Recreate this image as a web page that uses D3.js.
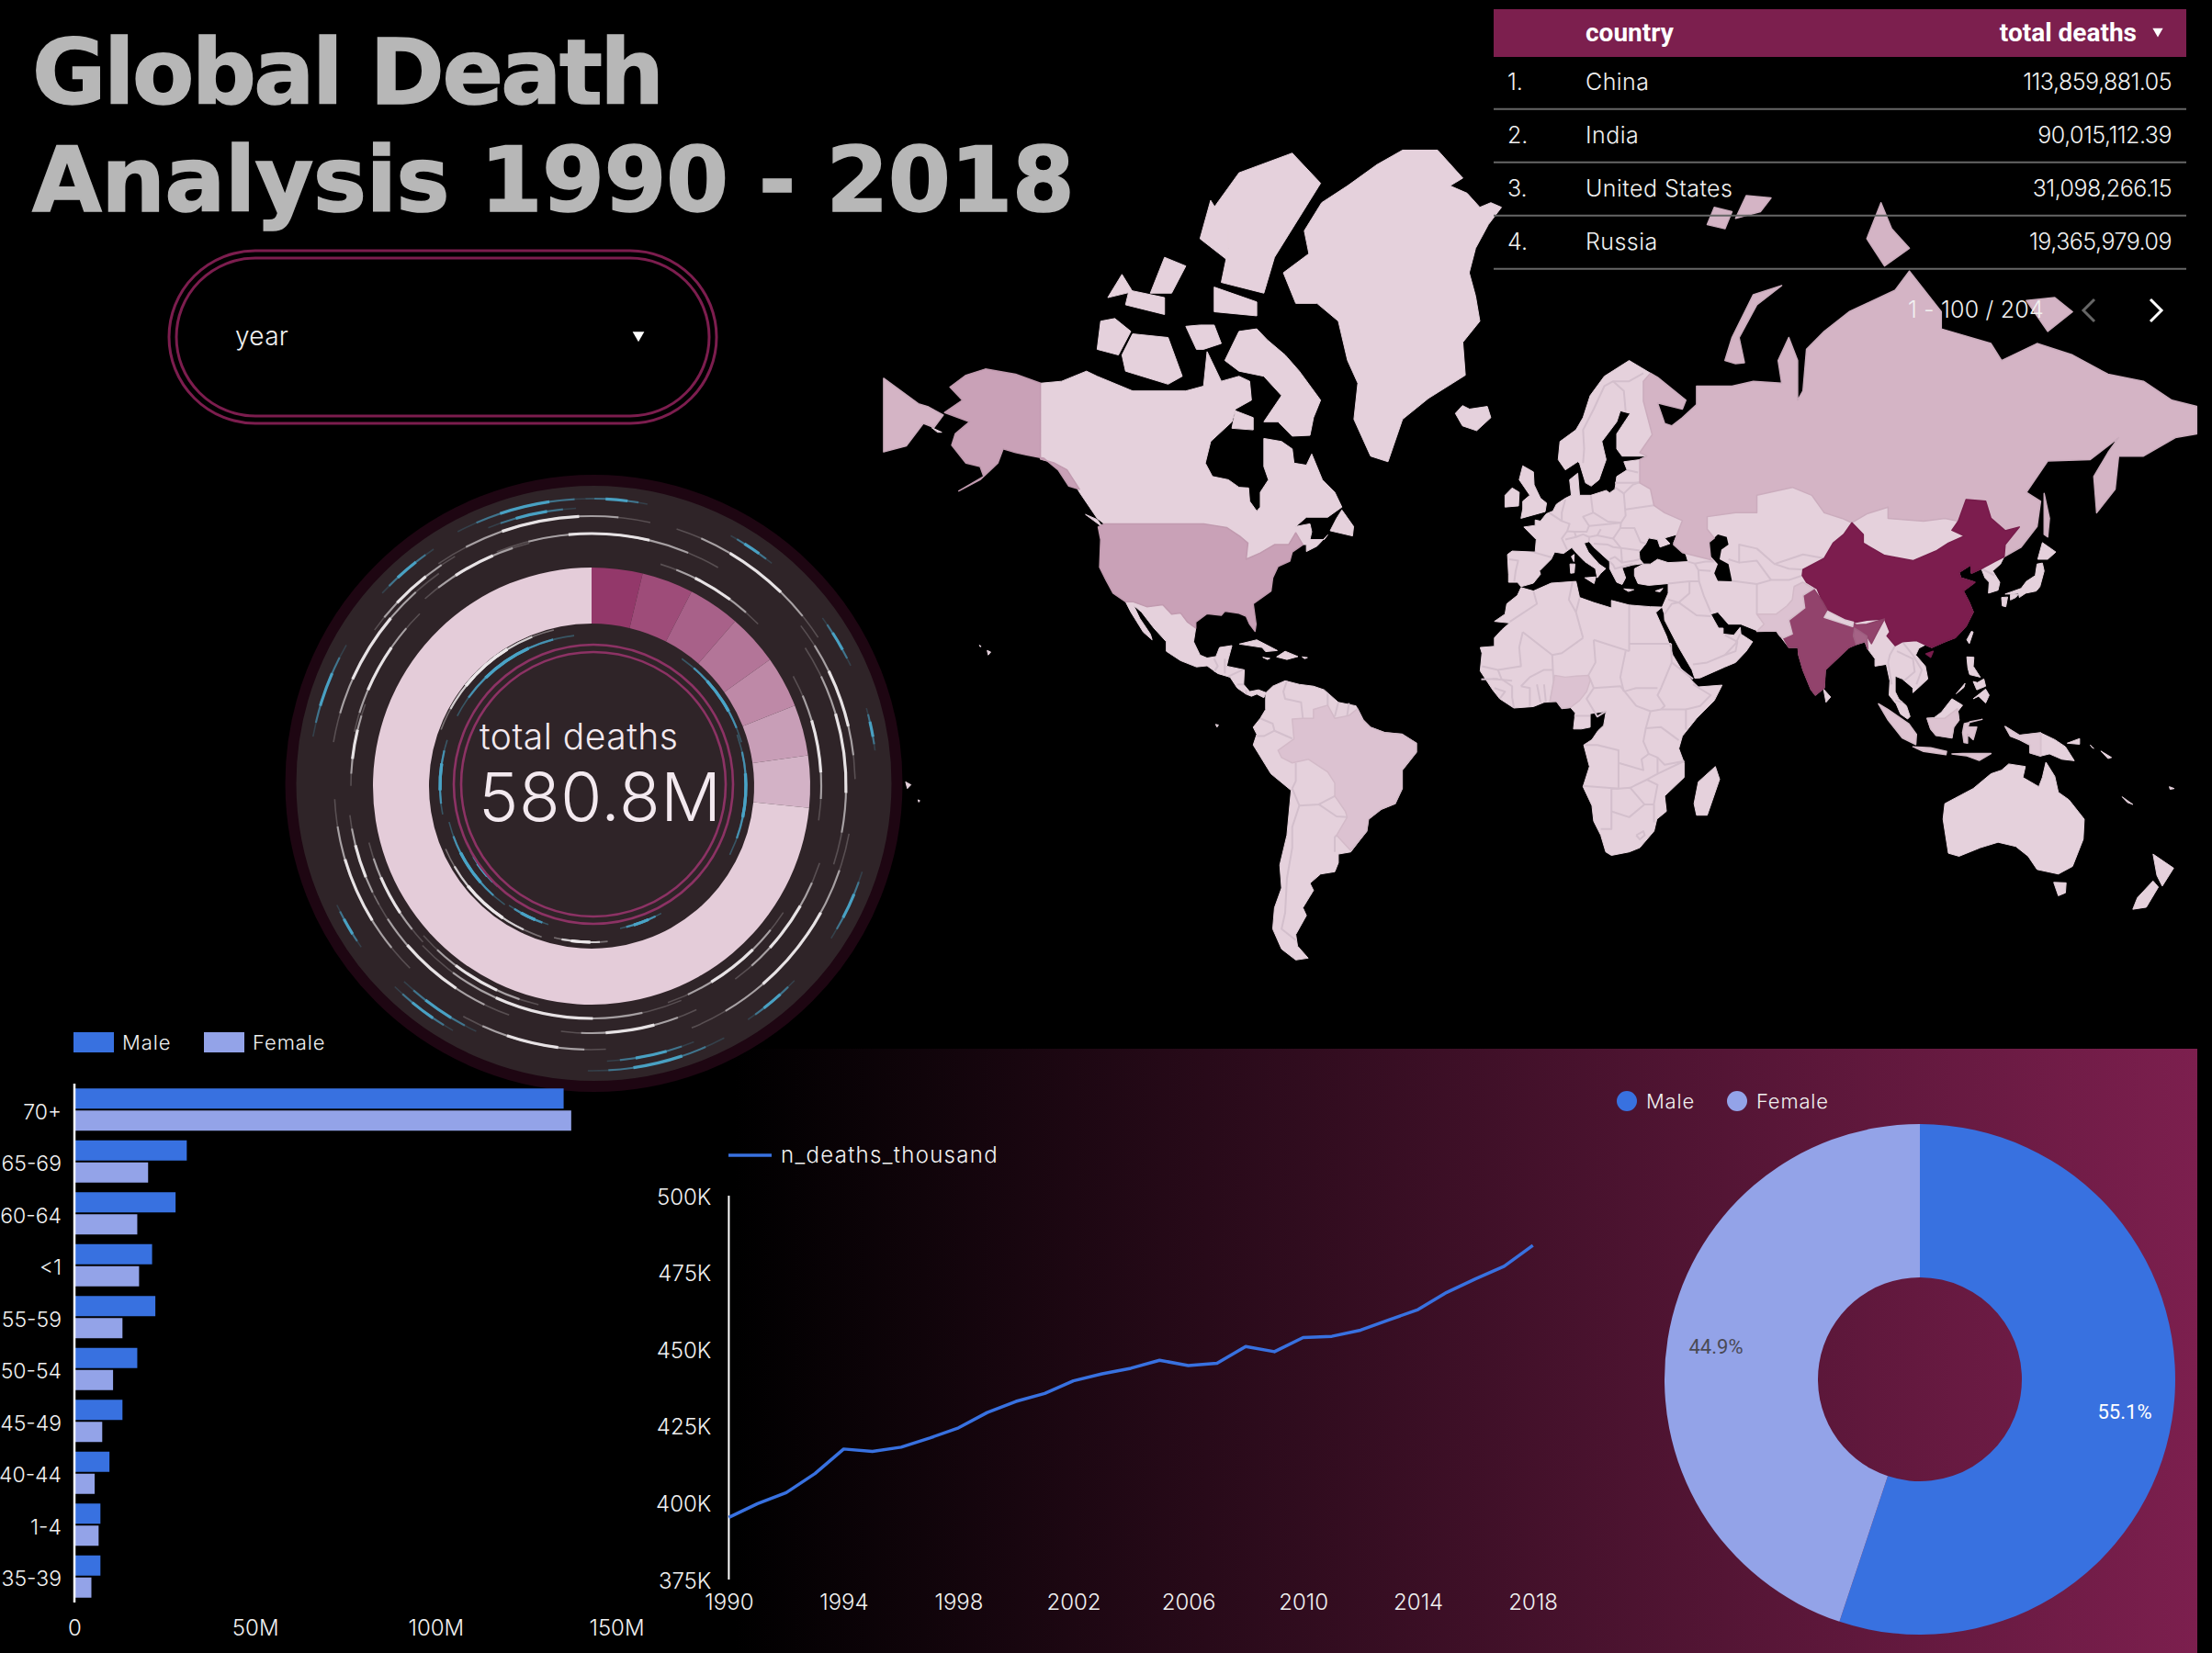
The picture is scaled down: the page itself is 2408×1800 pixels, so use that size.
<!DOCTYPE html>
<html><head><meta charset="utf-8">
<script src="https://d3js.org/d3.v7.min.js"></script>
<style>
html,body{margin:0;padding:0;background:#000;}
svg{display:block;}
text{font-family:Inter,"Open Sans",sans-serif;font-weight:300;fill:#f1f1f1;}
</style></head><body>
<svg id="c" width="2408" height="1800"></svg>
<script>
// ---------- chart data ----------
const ageGroups=["70+","65-69","60-64","<1","55-59","50-54","45-49","40-44","1-4","35-39"];
const maleDeaths=[135.4,31.1,28.0,21.5,22.4,17.4,13.3,9.7,7.2,7.2];
const femaleDeaths=[137.5,20.4,17.4,17.9,13.3,10.7,7.7,5.6,6.7,4.7];
const barTicks=[0,50,100,150];
const years=d3.range(1990,2019);
const deathsThousand=[395.2,399.7,403.3,409.5,417.5,416.7,418.1,421.1,424.4,429.4,433.0,435.6,439.7,442.0,443.8,446.4,444.7,445.4,450.9,449.2,453.8,454.2,456.2,459.6,462.9,468.5,472.9,477.0,483.8];
const lineYTicks=[375,400,425,450,475,500];
const lineXTicks=[1990,1994,1998,2002,2006,2010,2014,2018];
const genderNames=["Male","Female"];
const genderShare=[55.1,44.9];
const ringValues=[21.8,22.1,22.3,22.0,22.1,21.8,22.3,426.4];
const tableCountries=["China","India","United States","Russia"];
const tableDeaths=[113859881.05,90015112.39,31098266.15,19365979.09];
// decorative streaks of the dial: [radius, start angle, end angle]
const whiteStreaks=[[294,-30,8],[275,-17,25],[273,-39,-17],[295,22,53],[253,20,43],[291,-52,-33],[285,-76,-40],[265,-74,-48],[262,-88,-72],[287,56,85],[250,65,95],[277,62,103],[285,106,152],[262,112,140],[250,127,157],[269,158,184],[287,180,206],[253,164,220],[280,229,263],[265,243,261],[250,230,253],[265,204,239],[245,197,225],[173,203,242],[170,176,192],[175,-64,-19]];
const blueStreaks=[[312,30,38],[313,-25,-2],[313,0,10],[303,-20,-5],[310,-46,-35],[308,-78,-62],[311,55,64],[311,75,82],[309,109,121],[306,135,145],[310,155,178],[300,160,175],[306,211,223],[295,207,222],[306,236,244],[170,39,70],[168,75,112],[158,153,167],[158,199,213],[160,220,252],[150,225,240],[165,262,285],[165,-57,-12]];

// ---------- map data: outlines in lon/lat ----------
const landRings=[
// Canada + Central America block
[[-141,68.8],[-135,69],[-128,70],[-125,69.5],[-115,68],[-108,68],[-100,68],[-95,68.5],[-94,71.8],[-90,69],[-85,69.5],[-82,69],[-81.5,67],[-86,66],[-87,64.5],[-93,62],[-94.5,59],[-92.5,57],[-88,56.5],[-85,55.3],[-82.3,55.2],[-82,53],[-80,51.3],[-79,52],[-79,54.5],[-76.7,56.5],[-78,58.5],[-78,62.4],[-73,62],[-70,61],[-69.5,59],[-66,58.7],[-64.5,60.3],[-61.5,56.5],[-58,54.5],[-56,52],[-60,50.2],[-66,50.2],[-69,48.5],[-65,49],[-64.5,47.5],[-65,46],[-61,46],[-60,46.9],[-63,44.7],[-66,43.6],[-66,45],[-67,45],[-69,47.3],[-71,45],[-75,45],[-79,43.3],[-83,42],[-82.5,45.3],[-84.5,46.5],[-88.5,48.3],[-95,49],[-123,49],[-125,50],[-130,54.5],[-133.5,58],[-137,59],[-141,59.6]],
[[-117,32.5],[-114.8,32.5],[-111,31.3],[-106.5,31.8],[-104,29.5],[-101.5,29.8],[-99.5,27.5],[-97.2,26],[-97.8,22.5],[-96,19],[-94,18.2],[-91.5,18.6],[-90.5,21],[-87,21.5],[-88,18],[-88.5,16],[-83.5,15],[-83.7,11],[-82,9],[-79.5,9.5],[-77.4,8.7],[-78,7.3],[-80,8.3],[-81.5,7.7],[-83,8.3],[-85.5,10],[-87.5,13],[-91,14],[-94,16.1],[-97,15.8],[-101.5,17.5],[-105.5,20],[-105.5,22.5],[-109,26],[-112.5,30],[-114.7,31.6],[-113,28.5],[-110,24.5],[-109.5,23],[-112,25],[-115.5,30]],
// Arctic islands
[[-80,73.7],[-77,72.8],[-72,71.5],[-68,70],[-62,67],[-64,65],[-65,62.8],[-70,62.7],[-74,64.5],[-78,64.5],[-73,67.5],[-78,69.5],[-85,70],[-89,71],[-85,73.5]],
[[-117,70],[-105,68.7],[-101,69.5],[-105,73],[-115,73.3],[-118,71.5]],
[[-125,72],[-119,71.5],[-115.5,73.5],[-120,74.5],[-124,74.3]],
[[-117,75.5],[-106,74.8],[-106,76],[-116,76.5]],
[[-100,73.9],[-97,72],[-95,72],[-90,72.5],[-92,74],[-96,74]],
[[-92,75],[-80,74.7],[-80,75.7],[-92,76.7]],
[[-90,77],[-78,76.3],[-75,78.5],[-62,82],[-70,83.1],[-85,82.4],[-92,81],[-88,79]],
[[-96,79.5],[-88,78.3],[-88,80],[-93,81.3]],
[[-110,76.3],[-104,76.3],[-100,78],[-106,78.5]],
[[-122,76],[-115,76.4],[-118,77.5]],
[[-87,63.7],[-81,63.5],[-81,65],[-86,65.8]],
[[-59.3,47.7],[-53,46.7],[-52.7,48.5],[-56,51.5],[-57.5,50]],
[[-128.3,50.7],[-123.5,48.4],[-125,49.8]],
// Greenland and Iceland
[[-38.9,83.2],[-29,83.2],[-21.9,82.2],[-25.5,81.9],[-20.7,81.6],[-17.1,81],[-14,81.2],[-11,81],[-14.7,80.2],[-18.3,79],[-20.1,77.6],[-18.3,76.1],[-17.1,74.3],[-21.9,72.6],[-21.2,69.6],[-31.6,67.2],[-38.9,64.8],[-43,59.2],[-47.9,60],[-52.6,64.8],[-51.5,68.8],[-54.4,71],[-57,74.3],[-63,75.6],[-69,75.6],[-72.5,77.6],[-65.3,78.7],[-66.6,79.9],[-61.7,81.2],[-54.4,81.9],[-46.1,82.7]],
[[-24,65.5],[-22,64],[-18,63.4],[-14,65],[-15,66.3],[-20,66],[-22,66.4]],
// Caribbean, small Pacific
[[-84.9,21.9],[-80,23],[-74.2,20.2],[-77.5,19.9],[-78.5,21]],
[[-74.4,18.5],[-72,20],[-68.4,18.6],[-71.5,17.8]],
[[-78.3,18.4],[-76.3,18.1],[-77,17.8]],[[-67.2,18.5],[-65.7,18.3],[-66.5,18]],
[[-156,20.2],[-155,19.8],[-155.7,19]],[[-158.2,21.6],[-157.7,21.3],[-158,21.2]],[[-91.6,-0.2],[-90.8,-0.4],[-91.2,-1]],
[[-179,-16.2],[-177.5,-17],[-178.5,-18]],[[-175.5,-21],[-175,-21.2],[-175.3,-21.6]],
// St Lawrence etc
[[-171.7,63.8],[-168.8,63.2],[-170,63.2]],
// South America
[[-77.4,8.7],[-75.5,10.5],[-72,12],[-68,11],[-64,10.5],[-61,9.5],[-57,6],[-52,5],[-50,1],[-48,-1],[-44,-2.5],[-39,-3],[-35,-5.5],[-35,-8],[-39,-13],[-39,-18],[-41,-22],[-45,-23.5],[-48.5,-26],[-49,-29],[-53.5,-34],[-57,-34.5],[-57,-36.5],[-58,-38.5],[-62,-39],[-65,-41],[-64,-42.5],[-67,-46],[-66,-47.5],[-69,-51],[-68.5,-53],[-65.5,-55],[-69,-55.3],[-73,-53.5],[-75.5,-50],[-75,-46],[-73,-42],[-73.5,-37],[-71.5,-30],[-70.3,-18.5],[-76,-14],[-81,-6],[-80,-3],[-81,-1],[-79,1.5],[-77.5,4],[-77.5,7]],
// Africa
[[-5.5,35.8],[-2,35],[3,36.8],[10,37.2],[11,33.5],[15,32.3],[20,31],[20,32.8],[25,31.7],[31,31.3],[34.3,31.2],[32.5,29.9],[35.5,24],[37.3,19],[39.5,15.5],[43.2,11.5],[44.5,10.3],[51.2,10.8],[49,6.5],[44,1.5],[40,-3.5],[39,-7],[40.5,-11],[40.5,-15],[35,-20],[35.5,-24],[32.8,-26],[32,-29],[28,-33],[25,-34],[20,-34.8],[18.4,-34],[17,-30],[15,-26.5],[14.5,-22.5],[12,-17.5],[13.8,-12],[12.2,-6],[14.5,-4.5],[16.2,-2],[17.8,-0.5],[18.5,3.5],[14,2.8],[14,-1],[11.5,-1.5],[9.3,-1.5],[9.8,3],[8.5,4.5],[6,4.3],[4.5,6.3],[1,6],[-2,4.8],[-7.5,4.4],[-11.5,7],[-13.5,9.5],[-17,14.7],[-16.5,19.5],[-17,21],[-13,21.3],[-13,23.5],[-11,25.5],[-8.7,27.3],[-13,27.7],[-10,29.5],[-9.5,32],[-6.5,34]],
[[44,-25],[47,-25],[50.5,-15.5],[49.3,-12],[44.5,-16.2],[43.3,-22]],
// Eurasia mainland
[[25,71],[18,69.5],[14,67.5],[12,65],[10,63.5],[5.5,62],[5,59.5],[7,58],[10.5,59.2],[11,59],[12.7,56],[14.3,55.5],[16.5,56.5],[18.5,59.5],[17.3,62],[21.5,64.5],[22.5,65.8],[25.3,65.5],[21.5,63],[21.5,61],[23,60],[30,60],[28,59.5],[23.5,59.2],[24.4,58],[21.5,57],[21,55],[19.5,54.4],[18.5,54.8],[14.2,54],[11,54],[10.5,57.5],[8.2,56.5],[8.7,54],[7,53.5],[4.5,52.5],[3.5,51.3],[1.6,50.8],[0,49.5],[-1.5,49.7],[-1.5,48.7],[-4.7,48.4],[-1.2,46],[-1.5,43.5],[-8,43.7],[-9.3,43],[-9,38.7],[-9,37],[-6.5,37],[-5.5,36],[-2,36.8],[0,38.8],[-0.3,39.5],[3,42],[4,43.5],[6.5,43.2],[8.8,44.4],[10.5,43],[12.5,41.5],[15.5,40],[16,38],[17,39],[18.4,40],[16.5,41],[13.5,43.5],[12.3,45.3],[13.7,45.6],[15,44.5],[19.5,41.5],[19.5,40],[21.5,37],[23,36.5],[24,38],[23,40.2],[26,40.8],[29,41.1],[28,42],[27.8,43.5],[29.7,45.2],[30.5,46.3],[33,46],[33.7,44.5],[36.5,45.2],[35,46.3],[38.5,47],[37.5,45.3],[41,43],[41.6,41.5],[36,41.3],[33,42],[31,41],[29,41],[26.5,40],[26.5,38.5],[27.5,36.7],[30.5,36.3],[36,36.7],[36,34.5],[34.3,31.2],[34.9,29.5],[35,28],[39,21],[42.7,15],[43.5,12.7],[45,12.8],[52,15.8],[55,17],[58,20],[59.8,22.5],[56.5,24.5],[56.3,26.2],[54.5,24.2],[51.5,24.5],[51.5,26],[50.2,26],[48,29.5],[50,30],[53,27],[56.5,27],[61.5,25.2],[66.5,25.3],[67.5,24],[70,21],[72.6,21],[72.8,19],[74,15],[76.3,9.5],[77.5,8],[80,10],[80.3,15],[82.5,17],[87,21],[89,21.8],[91.5,22.5],[92.3,20.5],[94.3,18],[94.3,16],[97.5,16.5],[98.5,12],[98.3,8],[100.3,5.5],[101.5,2.7],[103.5,1.3],[104.2,2],[103.2,5],[101,7],[100,9],[100,13.3],[102,12.5],[105,10],[105,8.7],[106.8,10.3],[109.2,12.5],[108.5,16],[105.8,19],[106.7,20.8],[108.5,21.7],[110.3,21],[114,22.5],[117,23.6],[120,26.5],[122,30],[120.8,32.5],[119.2,35],[122.5,37],[118.5,38],[118,39.2],[121.3,40.8],[121.5,39],[124.3,40],[125.3,38],[126.5,37],[126.3,34.5],[129,35.2],[129.5,37],[127.5,39.5],[129.7,41],[130.7,42.5],[125,52],[100,55],[60,58],[35,62],[31,69.8]],
// Eurasian islands
[[-5.5,50],[1.3,51.2],[1.7,52.7],[0,53.5],[-1.8,55.7],[-2,57.7],[-5,58.6],[-6,56.5],[-3,54],[-5,53],[-5,51.7]],
[[-10,52],[-6.2,52.2],[-6,54.5],[-8,55.2],[-10,54]],
[[12.5,38],[15.6,38.2],[15.1,36.7]],[[8.3,41],[9.7,41],[9.5,39.1],[8.5,39]],[[8.7,42.6],[9.5,43],[9.4,41.5]],[[23.5,35.5],[26.3,35.3],[24.8,34.9]],[[32.4,35],[34.5,35.6],[33.7,34.8]],
[[79.8,9.7],[81.8,7.5],[80.5,6]],
[[130,33.5],[131.7,33.6],[131.2,31.3],[130.2,31.5]],
[[132.5,34.2],[134.7,34.2],[134,33.5],[132.5,32.9]],
[[131,34.3],[135.5,35.6],[137,37.2],[139.5,38.5],[140,41],[141.5,41.2],[142,39.5],[140.8,36],[139.8,35],[136.8,34.5],[135,33.5],[134.8,34.5],[132.5,34.3]],
[[140.2,42],[141.5,45.4],[145.3,43.5],[143,42]],
[[120.2,23],[121.5,25.2],[122,25],[120.9,22]],
[[120.2,18.5],[122.2,18.4],[122,16],[124,13],[121,13.7],[120.5,15.5]],
[[122,7],[125.5,9.7],[126.5,8],[125.5,5.8],[123.5,7.7]],
[[122,11.8],[123.2,11.5],[125,12.5],[125.5,10.5],[123,9.5]],
[[117.2,8.4],[119.7,11.3],[119.4,10.2]],
[[109,1.5],[111,1.7],[113,3.2],[116,7],[119,5.2],[117.7,3.5],[118,1],[116.5,-1],[116,-4],[111.5,-3.3],[110,-1.5]],
[[131,-0.8],[135,-3.3],[141,-2.6],[145,-4.5],[148,-6.5],[150.5,-10.4],[147,-10],[143.5,-8.5],[141,-9.1],[138,-8.2],[138,-6],[135,-4.5],[132.5,-3.5]],
[[148.5,-5.5],[152,-4.2],[152,-5.8]],[[155,-6],[156,-7],[155.5,-6.7]],[[158,-7.7],[161,-9.5],[160,-9.8]],
[[114,-22],[113.5,-26],[115,-34.3],[118,-35],[124,-33],[129,-31.7],[134,-32.7],[137.5,-35],[140,-38],[146,-39],[150,-37.3],[153,-31],[153.3,-26],[149,-21],[146,-19],[145,-14.7],[142.5,-10.8],[141.5,-15],[140.5,-17.5],[136,-15],[136.7,-12],[132,-11.3],[130,-13],[127,-14],[122,-18],[117,-20.5]],
[[144.7,-40.8],[148.2,-40.9],[148,-43],[146,-43.6]],
[[172.7,-34.5],[178.5,-37.7],[175.3,-41.6],[173.8,-39.3]],
[[172.7,-40.5],[174.2,-41.8],[170.8,-45.9],[167,-46.3],[168.3,-44]],
[[164,-20.2],[167,-22.2],[165.5,-21.7]],[[177.3,-17.5],[178.7,-18],[177.5,-18.2]]
];
const blackRings=[[[47,45],[50,47],[52.5,46.5],[53,45],[51,44],[50.5,42],[53,41],[54,37.2],[50,37.3],[49,39],[50,41],[47.5,43]]];
const countryNames=["United States","Alaska","Chukotka west","Russia","Sakhalin","Novaya Zemlya","Franz Josef Land A","Franz Josef Land B","Severnaya Zemlya","New Siberian Is.","China","Hainan","India","Pakistan","Bangladesh","Brazil","Nigeria","Sumatra","Java","Kalimantan","Sulawesi","Papua","Timor","Nepal"];
const countryValues=[31.1,31.1,19.4,19.4,19.4,19.4,19.4,19.4,19.4,19.4,113.9,113.9,90.0,10.5,70,10.5,10.5,10,10,10,10,6,10,2];
const countryRings=[
[[-123,49],[-95,49],[-88.5,48.3],[-84.5,46.5],[-82.5,45.3],[-83,42],[-79,43.3],[-75,45],[-71,45],[-69,47.3],[-67,45],[-70,43.5],[-70.7,41.6],[-74,40.5],[-75.5,38],[-76,35],[-81,32],[-80.2,27],[-80.5,25.2],[-82,27],[-83,29],[-85,29.7],[-89,30.2],[-90,29.2],[-94,29.6],[-97.2,27.5],[-97.2,26],[-99.5,27.5],[-101.5,29.8],[-104,29.5],[-106.5,31.8],[-111,31.3],[-114.8,32.5],[-117,32.5],[-120.5,34.5],[-122.5,37.5],[-124.3,40.3],[-124,46],[-124.7,48.4]],
[[-141,68.8],[-148,69.7],[-156.5,70.2],[-162,69.6],[-166.5,68.4],[-163,67],[-168,65.6],[-161,64.5],[-165,63],[-166,61.5],[-162,59],[-158,58.5],[-157,57],[-164,54.7],[-158,56.5],[-153,59],[-151.5,61],[-148,60.5],[-145,60.2],[-140,59.7],[-136,58],[-133,55.5],[-130,55],[-133.5,58],[-137,59],[-141,59.6]],
[[-185.2,69.3],[-175.4,66.6],[-172.8,66.3],[-168.4,65.3],[-171,63.8],[-174,64.3],[-178.8,61.4],[-185.2,60.6]],
[[31,69.8],[33,69.4],[41,67],[40,66],[35,66.5],[33,66.7],[35,64.3],[37,64],[40,65],[44,66.5],[44,68.5],[54,68.5],[60,69],[68,68.8],[67,71],[70,73],[72.5,71],[72.5,67],[74,68],[75,72],[80,73.5],[87,75],[100,76.5],[104,77.7],[113,75],[113,73.7],[127,72.5],[130,71],[140,72.5],[150,71.5],[160,69.7],[170,69],[178,67],[185,66.3],[185,63],[179,62.5],[170,60],[163,60],[162,55],[156.8,51],[156,57],[160,60.5],[163,62.5],[155,59.5],[143,59.3],[137,54.5],[141,53],[140,48.5],[135.5,44.5],[130.7,42.5],[131,45],[135,48.4],[131,47.7],[127,50],[125.5,53],[120,53.3],[117.8,49.5],[114,50],[108,49.5],[98,50],[98,52],[92,50.8],[87.8,49.2],[85,50],[80,51],[76.5,54],[71,55.3],[61,54],[61,51],[55,51],[47,50.3],[47,48],[49,46.3],[47.5,45.5],[48,42],[48.5,41.8],[40,43.4],[37.5,45],[38.5,47],[40,49.6],[35,51],[32,52.3],[31,55],[28,56],[28,59.5],[30,60],[28,60.5],[31.5,62.9],[29,66.9],[29,69]],
[[142,54.3],[143.5,50],[143,46.5],[142,47],[142,50]],
[[52,71],[55,70.7],[57.5,70.8],[56,73],[61,75.5],[68,76.8],[60,76.2],[54,73]],
[[47,80.2],[52,80],[54,80.8],[49,81]],[[55,80.5],[62,80.8],[65,81.4],[58,81.5]],
[[92,79.5],[97,78],[104,79],[99,80],[96,81.2]],
[[137,75.8],[143,73.5],[150,75],[145,76]],
[[131,45],[135,48.4],[131,47.7],[127,50],[125.5,53],[120,53.3],[117.8,49.5],[116,47.8],[119.5,46.7],[115,45.3],[111.5,43.7],[105,41.7],[97,42.8],[91,45.3],[91,47],[87.8,49.2],[85.5,47],[82.5,45.3],[80,42.2],[74,39.8],[73.8,38.5],[75,37],[78,35.5],[79.5,32.5],[81,30.2],[86,28],[89,27.5],[92,28],[97,28.3],[98.5,25],[97.7,24],[100,21.5],[102,22.5],[106,22.8],[108.5,21.7],[110.3,21],[114,22.5],[117,23.6],[120,26.5],[122,30],[120.8,32.5],[119.2,35],[122.5,37],[118.5,38],[118,39.2],[121.3,40.8],[121.5,39],[124.3,40],[128,41.5],[130.7,42.5]],
[[108.7,19.3],[110.7,20],[110,18.4]],
[[77,35.5],[79.5,32.5],[81,30.2],[80,28.7],[88,26.4],[88.2,27.5],[89,26.8],[92,27],[97,28.3],[95,25],[93.3,22],[92,24],[90,25.2],[88.5,26],[88.2,24],[89,21.8],[87,21],[82.5,17],[80.3,15],[80,10],[77.5,8],[76.3,9.5],[74,15],[72.8,19],[72.6,21],[70,21],[68.5,23.5],[71,24.5],[70,28],[74.5,31],[74,34]],
[[61,25.2],[66.5,25.3],[67.5,24],[68.5,23.5],[71,24.5],[70,28],[74.5,31],[74,34],[77,35.5],[74,37],[71.5,36],[71,33],[69.5,31.5],[66.5,29.5],[61,29.5],[63,27]],
[[88.2,24],[88.5,26],[90,25.2],[92,24],[92.3,20.5],[91.5,22.5],[89,21.8]],
[[-51.6,4.2],[-54,2.3],[-58,1.5],[-60,5.2],[-64,4],[-64,1.5],[-67,1.5],[-70,1.3],[-69.5,-4.3],[-74,-7.5],[-73,-9.5],[-70,-11],[-65.4,-10],[-60,-13.5],[-58,-16.5],[-58,-20],[-55,-24],[-54.5,-25.5],[-57.5,-30],[-53.5,-33.7],[-49,-29],[-48.5,-26],[-45,-23.5],[-41,-22],[-39,-18],[-39,-13],[-35,-8],[-35,-5.5],[-39,-3],[-44,-2.5],[-48,-1],[-50,1]],
[[2.7,6.3],[3.7,11.7],[4,13.5],[7,13],[10,13.3],[13.5,13.5],[14,12],[13,9],[11,6.5],[8.5,4.6],[6,4.3],[4.5,6.3]],
[[95.3,5.6],[98,4],[103.8,0],[106,-3],[105.8,-5.9],[102,-4],[98,1]],
[[105,-6.5],[110,-6.8],[114.5,-7.8],[114.3,-8.7],[108,-7.8]],
[[109,1.5],[114,1.5],[117.5,4.2],[118,1],[116.5,-1],[116,-4],[111.5,-3.3],[110,-1.5]],
[[119.5,0],[124.5,1.2],[121,0.5],[120.5,-1],[123,-1],[122,-4.5],[120.4,-3],[120.4,-5.5],[119.4,-5.3],[119,-2.5]],
[[131,-0.8],[135,-3.3],[141,-2.6],[141,-9.1],[138,-8.2],[138,-6],[135,-4.5],[132.5,-3.5]],
[[116,-8.5],[119,-8.4],[125,-8.4],[127,-8.4],[123.7,-10.3],[120,-9]],
[[80,28.7],[81,30.2],[86,28],[88.2,27.5],[88,26.4]]
];
const borderLines=[
[[-1.7,43.4],[3.2,42.4]],[[-8.8,42],[-6.3,41.7],[-7,39.5],[-7.4,37.2]],[[2.5,51],[6,49.5],[8.2,49],[7.5,47.6],[6,46.2],[7.5,44]],[[7,53.3],[6,51],[6,49.5]],[[14.2,53.9],[14.8,51],[12,50.3],[13.7,48.6],[13,47.5],[9.6,47.5],[7.5,47.6]],[[9.6,47.5],[10,46.5],[7,46]],[[10,46.5],[12,47],[13.7,46.5],[13.7,45.6]],[[23.5,54.3],[24,50.5],[22.7,49.2],[19,49.4],[15,51]],[[13.7,48.6],[17,48.8],[22.7,49.2]],[[17,48],[16,46.8],[13.7,46.5]],[[22.5,48.2],[20.5,46.2],[16,46.8]],[[22.7,49.2],[22.5,48.2],[26.5,48.2],[28.2,45.5],[29.7,45.2]],[[20.5,46.2],[22.7,44.3],[28,43.8]],[[22.7,44.3],[23,41.3],[26.3,41.7],[28,42]],[[19.5,42],[21,42.5],[23,41.3]],[[15,45.2],[19,45],[20.5,44.5],[22.7,44.3]],[[19.5,41.5],[20.5,40.8],[21,40],[26,41]],
[[21,56],[26,56],[28,56.1]],[[24.3,58],[27.5,57.6]],[[21,55.3],[23.5,54.3],[26,55.7],[28,56.1]],[[24,51.6],[32,52.3]],[[12,59],[12.3,61],[12,63.5],[15,66],[18,68.5],[20.5,69],[25,69],[29,69.8]],[[24,65.8],[23.5,68],[20.5,69]],
[[36,36.7],[42,37.2],[44.7,37.2],[44.5,39.7],[43.5,41.1],[41.6,41.5]],[[43.5,41.1],[46.5,41.5],[49,41.5]],[[44.5,39.7],[48,39.5]],[[36,33],[39,32.3],[42,34.5],[42,37.2]],[[35,29.5],[37,32],[39,32.3],[44,29.2],[48,29]],[[44.7,37.2],[46,34],[48,30]],[[43,16.5],[47,17],[52,19],[55,20],[55.5,22.5],[52,24.2]],[[52,19],[55,22],[56.3,24.5]],
[[54,37.3],[61,36.6],[61,31.5],[61,29.5]],[[53,42],[56,41.3],[56,45],[61,44.2],[66,41],[70,42],[74,43],[80,42.2]],[[61,36.6],[65,37.5],[70,37.5],[73.8,38.5]],[[66,41],[70,40],[74,39.8]],[[56,41.3],[61,41.7],[65,37.5]],[[71.5,36],[74,37]],
[[100,21.5],[98.5,19],[98,17],[99,11]],[[100.5,20],[105,18],[105.5,14.5],[102.5,12]],[[102,22.5],[105,19],[107.5,15],[106,11]],[[100,6.5],[102,6]],[[124.3,40],[128,38.5]],
[[25,31.7],[25,20]],[[25,22],[36.8,22]],[[11,33.3],[10,30],[12,23.5]],[[15,23],[25,20]],[[9,37],[8,33],[10,30]],[[-2,35],[-1,32],[-8.7,27.6]],[[12,23.5],[6,19.5],[3.3,19],[-5,25]],[[-5,25],[-6,21],[-5.5,16],[-12,15],[-16.5,16]],[[3.3,19],[3.5,15],[1,15],[-3,13],[-5.5,10.5]],[[15,23],[15.5,17],[13.5,13.5],[14,12.5]],[[24,20],[22.5,13],[23.5,9]],[[3.5,15],[3.7,11.7],[2.7,6.3]],[[14,12.5],[15,10],[13,7],[16,2],[18.5,3.5]],[[15,10],[22.5,10.5],[27,5],[31,3.5]],[[36.8,22],[37,17],[34,10],[33,8],[35,5],[34,4]],[[23.5,9],[27,10],[33,10]],[[34,4],[41,4],[41,-1.7]],[[34,4],[31,3.5],[29.7,-1.3],[34,-1],[39,-4.7]],[[37,17],[43,12.5]],[[41,4],[45,5],[48,8],[43,11]],[[29.7,-1.3],[29,-5],[30.5,-8.5],[28.5,-10],[29,-13],[22,-11],[22,-7.5],[16,-6],[12.5,-6]],[[22,-11],[22,-18],[12,-17.3]],[[22,-18],[20,-18],[20,-28.5],[17,-28.5]],[[20,-24],[25,-25.5],[29.3,-22.2],[25.3,-17.8],[22,-18]],[[25.3,-17.8],[30,-15.6],[33,-17],[32,-22]],[[30,-15.6],[33,-14],[33,-9.5]],[[33,-14],[40.5,-10.5]],[[30.5,-8.5],[33,-9.5],[35,-11.5],[40.5,-10.5]],[[29.3,-22.2],[32,-22.2],[32,-26.8]],[[27,-30],[29,-29],[29.4,-30],[28,-31],[27,-30]],[[-12,15],[-11,12.5],[-8,10.5],[-8,7.5],[-7.5,4.5]],[[-5.5,10.5],[-3,10],[-3,5]],[[-1,11],[0,6]],[[1,11],[1.5,6.2]],[[-13.5,12.5],[-8,12]],[[-11.5,7],[-10,9],[-13,10]],[[-16.7,12.4],[-12,12.5]],[[9.5,2.2],[14,2.2]],
[[-71.5,12],[-72.5,9],[-72,7],[-67.5,6],[-67,1.5]],[[-60,8.5],[-60,5.2]],[[-57,6],[-58,2]],[[-54,5.8],[-54.5,2.3]],[[-79,1.5],[-75.5,0],[-75,-2],[-78,-3.5],[-80,-3.5]],[[-75,-2],[-70,-4.2]],[[-69,-11],[-69,-16],[-70,-18]],[[-70,-18],[-68,-22.5],[-70,-28],[-70,-33],[-71.5,-40],[-72,-47],[-73,-50],[-69,-52]],[[-68,-22.5],[-62.5,-22.2],[-58,-20]],[[-62.5,-22.2],[-57.5,-25.3],[-54.5,-25.5]],[[-58,-34],[-58,-30.5],[-57.5,-30]],
[[-92,18],[-91,16],[-92,14.5]],[[-89,18],[-89,14]],[[-88,13.2],[-84,15]],[[-85.5,11],[-83.7,11]],[[-83,8.3],[-83,9.5]],
[[141,-2.6],[141,-9.1]],[[124.9,-8.4],[125,-9.2]]
];

// ---------- drawing ----------
const SANS='Inter,"Open Sans",sans-serif';
const PLUM="#7c1d4e", BLUE="#3871e0", LILAC="#93a3e8";
const svg=d3.select("#c");
const defs=svg.append("defs");
const grad=defs.append("linearGradient").attr("id","panelGrad");
grad.append("stop").attr("offset","0").attr("stop-color","#000");
grad.append("stop").attr("offset","1").attr("stop-color","#7c1f4e");
svg.append("rect").attr("x",800).attr("y",1142).attr("width",1592).attr("height",658).attr("fill","url(#panelGrad)");

// ---- map
const rad=Math.PI/180;
const mapX=d3.scaleLinear().domain([-Math.PI,Math.PI]).range([982,2372]);
const mapY=d3.scaleLinear().domain([0,1]).range([788,788-221.2]);
const project=([lon,lat])=>{const [mx,my]=d3.geoMercatorRaw(lon*rad,lat*rad);return [mapX(mx),mapY(my)];};
const ringPath=r=>d3.line()(r.map(project))+"Z";
const linePath=l=>d3.line()(l.map(project));
const mapColor=d3.scaleLinear().domain([0,113.9]).range(["#e6d3de",PLUM]);
const map=svg.append("g");
const landFill=mapColor(1.5);
map.selectAll("path.land").data(landRings).join("path").attr("class","land").attr("d",ringPath)
  .attr("fill",landFill).attr("stroke",landFill).attr("stroke-width",1).attr("stroke-linejoin","round");
map.selectAll("path.sea").data(blackRings).join("path").attr("class","sea").attr("d",ringPath).attr("fill","#000");
map.selectAll("path.border").data(borderLines).join("path").attr("class","border").attr("d",linePath)
  .attr("fill","none").attr("stroke","#d3bfcc").attr("stroke-width",2).attr("stroke-linejoin","round");
map.selectAll("path.country").data(countryRings).join("path").attr("class","country").attr("d",ringPath)
  .attr("fill",(d,i)=>mapColor(countryValues[i]))
  .attr("stroke",(d,i)=>d3.color(mapColor(countryValues[i])).darker(0.12))
  .attr("stroke-width",1.5).attr("stroke-linejoin","round")
  .append("title").text((d,i)=>countryNames[i]);

// ---- title
svg.append("g").selectAll("text").data(["Global Death","Analysis 1990 - 2018"]).join("text")
  .attr("x",35).attr("y",(d,i)=>113+i*117).text(d=>d)
  .attr("textLength",(d,i)=>[688,1135][i]).attr("lengthAdjust","spacing")
  .style("font-family","'DejaVu Sans'").style("font-weight",700).style("font-size","98px").style("fill","#b7b7b7")
  .style("stroke","#b7b7b7").style("stroke-width","1.5px");

// ---- filter pill
[[184,273,596,188],[192,281,580,172]].forEach(r=>{
  svg.append("rect").attr("x",r[0]).attr("y",r[1]).attr("width",r[2]).attr("height",r[3]).attr("rx",r[3]/2)
   .attr("fill","none").attr("stroke",PLUM).attr("stroke-width",3);
});
svg.append("text").attr("x",256).attr("y",376).text("year").style("font-size","28px").style("letter-spacing","0.3px");
svg.append("path").attr("d",d3.symbol(d3.symbolTriangle,70)()).attr("transform","translate(695,365) rotate(180)").attr("fill","#fff");

// ---- dial
const dial=svg.append("g").attr("transform","translate(644,856)");
dial.append("circle").attr("cx",2.5).attr("cy",-3).attr("r",330).attr("fill","#2f2428").attr("stroke","#1e0612").attr("stroke-width",12);
const streak=d3.arc();
function drawStreaks(list,color){
  const layer=(cls,op,w,gap)=>dial.append("g").selectAll("path."+cls).data(list).join("path").attr("class",cls).attr("fill",color).attr("opacity",op)
    .attr("d",d=>{const m=(d[2]-d[1])*gap;return streak({innerRadius:d[0]-w/2,outerRadius:d[0]+w/2,cornerRadius:w/2,startAngle:(d[1]+m)*rad,endAngle:(d[2]-m)*rad});});
  layer("a",.22,1.6,-0.12);
  layer("b",.55,2.2,0.06);
  layer("c",.95,3.2,0.28);
}
drawStreaks(whiteStreaks,"#ebe7e9");
drawStreaks(blueStreaks,"#4aa3c6");
const ringPie=d3.pie().sort(null).value(d=>d);
const ringArc=d3.arc().innerRadius(177).outerRadius(238);
const ringShades=d3.scaleLinear().domain([0,6]).range(["#93386a","#d3b2c6"]);
dial.append("g").selectAll("path").data(ringPie(ringValues)).join("path").attr("d",ringArc)
  .attr("fill",(d,i)=>i<7?ringShades(i):"#e4ccd9");
drawStreaks(whiteStreaks.filter(d=>d[0]<177),"#ebe7e9");
drawStreaks(blueStreaks.filter(d=>d[0]<177),"#4aa3c6");
dial.selectAll("circle.pink").data([152,144]).join("circle").attr("class","pink").attr("cx",2).attr("cy",-2).attr("r",d=>d)
  .attr("fill","none").attr("stroke","#8c3264").attr("stroke-width",2.6);
svg.append("text").attr("x",522).attr("y",816).text("total deaths").style("font-size","39px").style("fill","#f3e9ef").style("letter-spacing","0.5px");
svg.append("text").attr("x",521).attr("y",894).text("580.8M").style("font-size","73px").style("fill","#f3e9ef").style("letter-spacing","0.7px");

// ---- bars
const bx=d3.scaleLinear().domain([0,150]).range([81,671]);
const by=d3.scaleBand().domain(ageGroups).range([1180,1745]);
const barH=22,barGap=2,barTop=(by.bandwidth()-2*barH-barGap)/2;
const bars=svg.append("g");
bars.selectAll("rect.m").data(maleDeaths).join("rect").attr("class","m").attr("x",bx(0)).attr("y",(d,i)=>by(ageGroups[i])+barTop)
  .attr("width",d=>bx(d)-bx(0)).attr("height",barH).attr("fill",BLUE);
bars.selectAll("rect.f").data(femaleDeaths).join("rect").attr("class","f").attr("x",bx(0)).attr("y",(d,i)=>by(ageGroups[i])+barTop+barH+barGap)
  .attr("width",d=>bx(d)-bx(0)).attr("height",barH).attr("fill",LILAC);
function styleAxis(g,size){g.select(".domain").remove();g.selectAll("line").remove();g.selectAll("text").style("font-size",size+"px").style("fill","#f1f1f1").style("font-family",SANS);}
svg.append("g").attr("transform","translate(0,1748)")
  .call(d3.axisBottom(bx).tickValues(barTicks).tickFormat(d=>d?d+"M":"0").tickSize(0).tickPadding(16)).call(styleAxis,24);
const catAxis=svg.append("g").attr("transform","translate(67,3)")
  .call(d3.axisLeft(by).tickSize(0).tickPadding(0)).call(styleAxis,23);
svg.append("line").attr("x1",81).attr("x2",81).attr("y1",1180).attr("y2",1745).attr("stroke","#fff").attr("stroke-width",2.5);
const legBar=svg.append("g");
genderNames.forEach((n,i)=>{
  const x=[80,222][i];
  legBar.append("rect").attr("x",x).attr("y",1124).attr("width",44).attr("height",22).attr("fill",[BLUE,LILAC][i]);
  legBar.append("text").attr("x",x+53).attr("y",1143).text(n).style("font-size","22px").style("letter-spacing","0.9px");
});

// ---- line
const lx=d3.scaleLinear().domain([1990,2018]).range([793.4,1668.7]);
const ly=d3.scaleLinear().domain([375,500]).range([1720,1302]);
svg.append("g").attr("transform","translate(793.4,1.5)")
  .call(d3.axisLeft(ly).tickValues(lineYTicks).tickFormat(d=>d+"K").tickSize(0).tickPadding(19)).call(styleAxis,24);
svg.append("g").attr("transform","translate(0,1726)")
  .call(d3.axisBottom(lx).tickValues(lineXTicks).tickFormat(d3.format("d")).tickSize(0).tickPadding(10)).call(styleAxis,24);
svg.append("line").attr("x1",793.4).attr("x2",793.4).attr("y1",1302).attr("y2",1720).attr("stroke","#fff").attr("stroke-width",2);
svg.append("path").datum(deathsThousand).attr("fill","none").attr("stroke",BLUE).attr("stroke-width",3.5).attr("stroke-linejoin","round")
  .attr("d",d3.line().x((d,i)=>lx(years[i])).y(d=>ly(d)));
svg.append("line").attr("x1",793).attr("x2",840).attr("y1",1258).attr("y2",1258).attr("stroke",BLUE).attr("stroke-width",3.5);
svg.append("text").attr("x",850).attr("y",1266).text("n_deaths_thousand").style("font-size","24px").style("letter-spacing","1.3px");

// ---- gender donut
const dn=svg.append("g").attr("transform","translate(2090,1502)");
const dnArc=d3.arc().innerRadius(111).outerRadius(278);
dn.selectAll("path").data(ringPie(genderShare)).join("path").attr("d",dnArc).attr("fill",(d,i)=>[BLUE,LILAC][i]);
svg.selectAll("text.pct").data(genderShare).join("text").attr("class","pct").attr("x",(d,i)=>[2313,1868][i]).attr("y",(d,i)=>[1545,1474][i])
  .attr("text-anchor","middle").text(d=>d+"%").style("font-family","Roboto").style("font-weight",400).style("font-size","22px").style("fill",(d,i)=>["#fff","#4a4a55"][i]);
genderNames.forEach((n,i)=>{
  const x=[1771,1891][i];
  svg.append("circle").attr("cx",x).attr("cy",1199).attr("r",11).attr("fill",[BLUE,LILAC][i]);
  svg.append("text").attr("x",x+21).attr("y",1207).text(n).style("font-size","22px").style("letter-spacing","0.8px");
});

// ---- table
const tb=svg.append("g");
tb.append("rect").attr("x",1626).attr("y",10).attr("width",754).attr("height",52).attr("fill","#7c1f4e");
const hd=(x,a,t)=>tb.append("text").attr("x",x).attr("y",45).attr("text-anchor",a).text(t).style("font-family","Roboto").style("font-weight",700).style("font-size","28px").style("fill","#fff");
hd(1726,"start","country");hd(2326,"end","total deaths");
tb.append("path").attr("d",d3.symbol(d3.symbolTriangle,55)()).attr("transform","translate(2349,34) rotate(180)").attr("fill","#fff");
const rowY=d3.scaleLinear().domain([0,3]).range([98,272]);
const lineY=d3.scaleLinear().domain([0,3]).range([118.7,292.7]);
tableCountries.forEach((c,i)=>{
  tb.append("text").attr("x",1641).attr("y",rowY(i)).text((i+1)+".").style("font-size","25px");
  tb.append("text").attr("x",1726).attr("y",rowY(i)).text(c).style("font-size","25px").style("letter-spacing","0.45px");
  tb.append("text").attr("x",2364).attr("y",rowY(i)).attr("text-anchor","end").text(d3.format(",.2f")(tableDeaths[i])).style("font-size","25px").style("letter-spacing","-0.5px");
  tb.append("line").attr("x1",1626).attr("x2",2380).attr("y1",lineY(i)).attr("y2",lineY(i)).attr("stroke","#666").attr("stroke-width",2);
});
tb.append("text").attr("x",2077).attr("y",346).text("1 - 100 / 204").style("font-size","25px").style("letter-spacing","0.2px");
tb.append("path").attr("d",d3.line()([[2280,326],[2268,338],[2280,350]])).attr("fill","none").attr("stroke","#666").attr("stroke-width",3);
tb.append("path").attr("d",d3.line()([[2341,326],[2353,338],[2341,350]])).attr("fill","none").attr("stroke","#fff").attr("stroke-width",3);
</script>
</body></html>
